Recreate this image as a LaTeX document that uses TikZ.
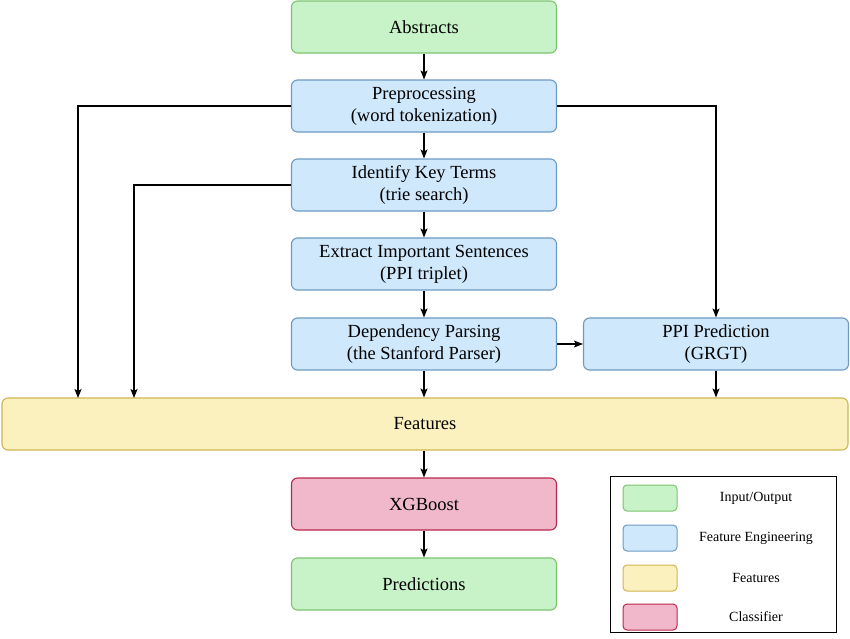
\documentclass[tikz,border=0pt]{standalone}
\usepackage{fontspec}
\setmainfont{Liberation Serif}
\usetikzlibrary{positioning,arrows.meta}
\definecolor{ioFill}{HTML}{C8F2C8}\definecolor{ioLine}{HTML}{7CC46E}
\definecolor{feFill}{HTML}{CFE8FB}\definecolor{feLine}{HTML}{6C9AC4}
\definecolor{ftFill}{HTML}{FBF1BE}\definecolor{ftLine}{HTML}{D2B450}
\definecolor{clFill}{HTML}{F1B8CC}\definecolor{clLine}{HTML}{B8284A}
\tikzset{
  box/.style={draw, rounded corners=6pt, line width=1.1pt, minimum width=265pt, minimum height=52pt, align=center, font=\fontsize{18.5}{22}\selectfont},
  io/.style={box, fill=ioFill, draw=ioLine},
  fe/.style={box, fill=feFill, draw=feLine},
  ft/.style={box, fill=ftFill, draw=ftLine, minimum width=846pt},
  cl/.style={box, fill=clFill, draw=clLine},
  swatch/.style={draw, rounded corners=4pt, line width=1pt, minimum width=54pt, minimum height=26pt},
  leg/.style={font=\fontsize{14}{16}\selectfont},
  arr/.style={-{Stealth[length=9pt,width=7pt,inset=2pt]}, line width=1.2pt}
}
\begin{document}
\begin{tikzpicture}[x=1pt,y=-1pt]
\useasboundingbox (0,0) rectangle (850,638);
\node[io] (abs) at (424,27) {Abstracts};
\node[fe] (pre) at (424,106) {Preprocessing\\(word tokenization)};
\node[fe] (key) at (424,185) {Identify Key Terms\\(trie search)};
\node[fe] (ext) at (424,264) {Extract Important Sentences\\(PPI triplet)};
\node[fe] (dep) at (424,344) {Dependency Parsing\\(the Stanford Parser)};
\node[fe] (ppi) at (716,344) {PPI Prediction\\(GRGT)};
\node[ft] (feat) at (425,424) {Features};
\node[cl] (xgb) at (424,504) {XGBoost};
\node[io] (out) at (424,584) {Predictions};
% legend
\node[draw, line width=1pt, minimum width=226pt, minimum height=156pt] (legend) at (723,554) {};
\node[swatch, fill=ioFill, draw=ioLine] (s1) at (650,498) {};
\node[swatch, fill=feFill, draw=feLine] (s2) at (650,538) {};
\node[swatch, fill=ftFill, draw=ftLine] (s3) at (650,578) {};
\node[swatch, fill=clFill, draw=clLine] (s4) at (650,617) {};
\node[leg] (t1) at (756,498) {Input/Output};
\node[leg] (t2) at (756,538) {Feature Engineering};
\node[leg] (t3) at (756,578) {Features};
\node[leg] (t4) at (756,617) {Classifier};
% arrows
\draw[arr] (abs) -- (pre);
\draw[arr] (pre) -- (key);
\draw[arr] (key) -- (ext);
\draw[arr] (ext) -- (dep);
\draw[arr] (dep) -- (ppi);
\draw[arr] (dep) -- (dep|-feat.north);
\draw[arr] (ppi) -- (ppi|-feat.north);
\draw[arr] (feat.south-|xgb) -- (xgb);
\draw[arr] (xgb) -- (out);
\draw[arr] (pre.west) -| (78,398);
\draw[arr] (key.west) -| (134,398);
\draw[arr] (pre.east) -| (ppi.north);
\end{tikzpicture}
\end{document}
